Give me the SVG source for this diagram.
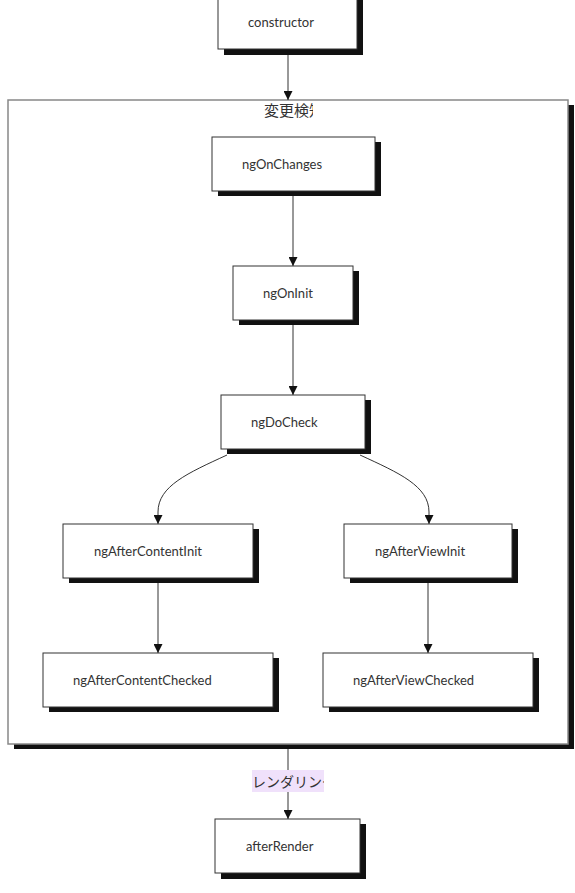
<svg xmlns="http://www.w3.org/2000/svg" width="575" height="893" viewBox="0 0 575 893">
<style>
.shadow{fill:#111;}
.box{fill:#fff;stroke:#333;stroke-width:1;}
.lbl{font-family:Lato,"Open Sans","Liberation Sans",sans-serif;font-size:13px;fill:#333;}
.edge{fill:none;stroke:#333;stroke-width:1;}
.cjk{font-family:"Noto Sans CJK JP","Liberation Sans",sans-serif;fill:#333;}
</style>
<defs>
<marker id="arr" viewBox="0 0 10 10" refX="10" refY="5" markerWidth="9" markerHeight="9" markerUnits="userSpaceOnUse" orient="auto">
<path d="M0,0 L10,5 L0,10 z" fill="#111"/>
</marker>
<clipPath id="cl1"><rect x="200" y="100" width="113" height="24"/></clipPath>
<clipPath id="cl2"><rect x="252" y="770" width="72" height="22"/></clipPath>
</defs>
<rect width="575" height="893" fill="#fff"/>
<g id="cluster">
<rect class="shadow" x="14" y="105" width="560" height="644"/>
<rect x="8" y="100" width="560" height="644" fill="#fff" stroke="#888" stroke-width="1.5"/>
<text class="cjk" x="264" y="116" font-size="15" clip-path="url(#cl1)">変更検知</text>
</g>
<g id="edges">
<path class="edge" d="M288,55 L288,100" marker-end="url(#arr)"/>
<path class="edge" d="M293,196 L293,266" marker-end="url(#arr)"/>
<path class="edge" d="M293,325 L293,395" marker-end="url(#arr)"/>
<path class="edge" d="M227,455 C188,473 158,486 158,512 L158,524" marker-end="url(#arr)"/>
<path class="edge" d="M360,455 C399,473 429,486 429,512 L429,524" marker-end="url(#arr)"/>
<path class="edge" d="M158,583 L158,653" marker-end="url(#arr)"/>
<path class="edge" d="M428,583 L428,653" marker-end="url(#arr)"/>
<path class="edge" d="M288,749 L288,819" marker-end="url(#arr)"/>
<rect x="252" y="770" width="72" height="22" fill="#f0e1fb"/>
<text class="cjk" x="252" y="787" font-size="14" fill="#555" clip-path="url(#cl2)">レンダリング</text>
</g>
<g id="constructor">
<rect class="shadow" x="224" y="-1" width="139" height="56"/>
<rect class="box" x="218" y="-6" width="139" height="55"/>
<text class="lbl" x="248" y="27">constructor</text>
</g>
<g id="ngOnChanges">
<rect class="shadow" x="218" y="142" width="163" height="54"/>
<rect class="box" x="212" y="137" width="163" height="54"/>
<text class="lbl" x="242" y="169">ngOnChanges</text>
</g>
<g id="ngOnInit">
<rect class="shadow" x="239" y="271" width="120" height="54"/>
<rect class="box" x="233" y="266" width="120" height="54"/>
<text class="lbl" x="263" y="298">ngOnInit</text>
</g>
<g id="ngDoCheck">
<rect class="shadow" x="227" y="400" width="144" height="54"/>
<rect class="box" x="221" y="395" width="144" height="54"/>
<text class="lbl" x="251" y="427">ngDoCheck</text>
</g>
<g id="ngAfterContentInit">
<rect class="shadow" x="69" y="529" width="190" height="54"/>
<rect class="box" x="63" y="524" width="190" height="54"/>
<text class="lbl" x="94" y="556">ngAfterContentInit</text>
</g>
<g id="ngAfterViewInit">
<rect class="shadow" x="350" y="529" width="168" height="54"/>
<rect class="box" x="344" y="524" width="168" height="54"/>
<text class="lbl" x="375" y="556">ngAfterViewInit</text>
</g>
<g id="ngAfterContentChecked">
<rect class="shadow" x="49" y="658" width="230" height="54"/>
<rect class="box" x="43" y="653" width="230" height="54"/>
<text class="lbl" x="73" y="685">ngAfterContentChecked</text>
</g>
<g id="ngAfterViewChecked">
<rect class="shadow" x="329" y="658" width="210" height="54"/>
<rect class="box" x="323" y="653" width="210" height="54"/>
<text class="lbl" x="353" y="685">ngAfterViewChecked</text>
</g>
<g id="afterRender">
<rect class="shadow" x="221" y="824" width="145" height="55"/>
<rect class="box" x="215" y="819" width="145" height="54"/>
<text class="lbl" x="246" y="851">afterRender</text>
</g>
</svg>
